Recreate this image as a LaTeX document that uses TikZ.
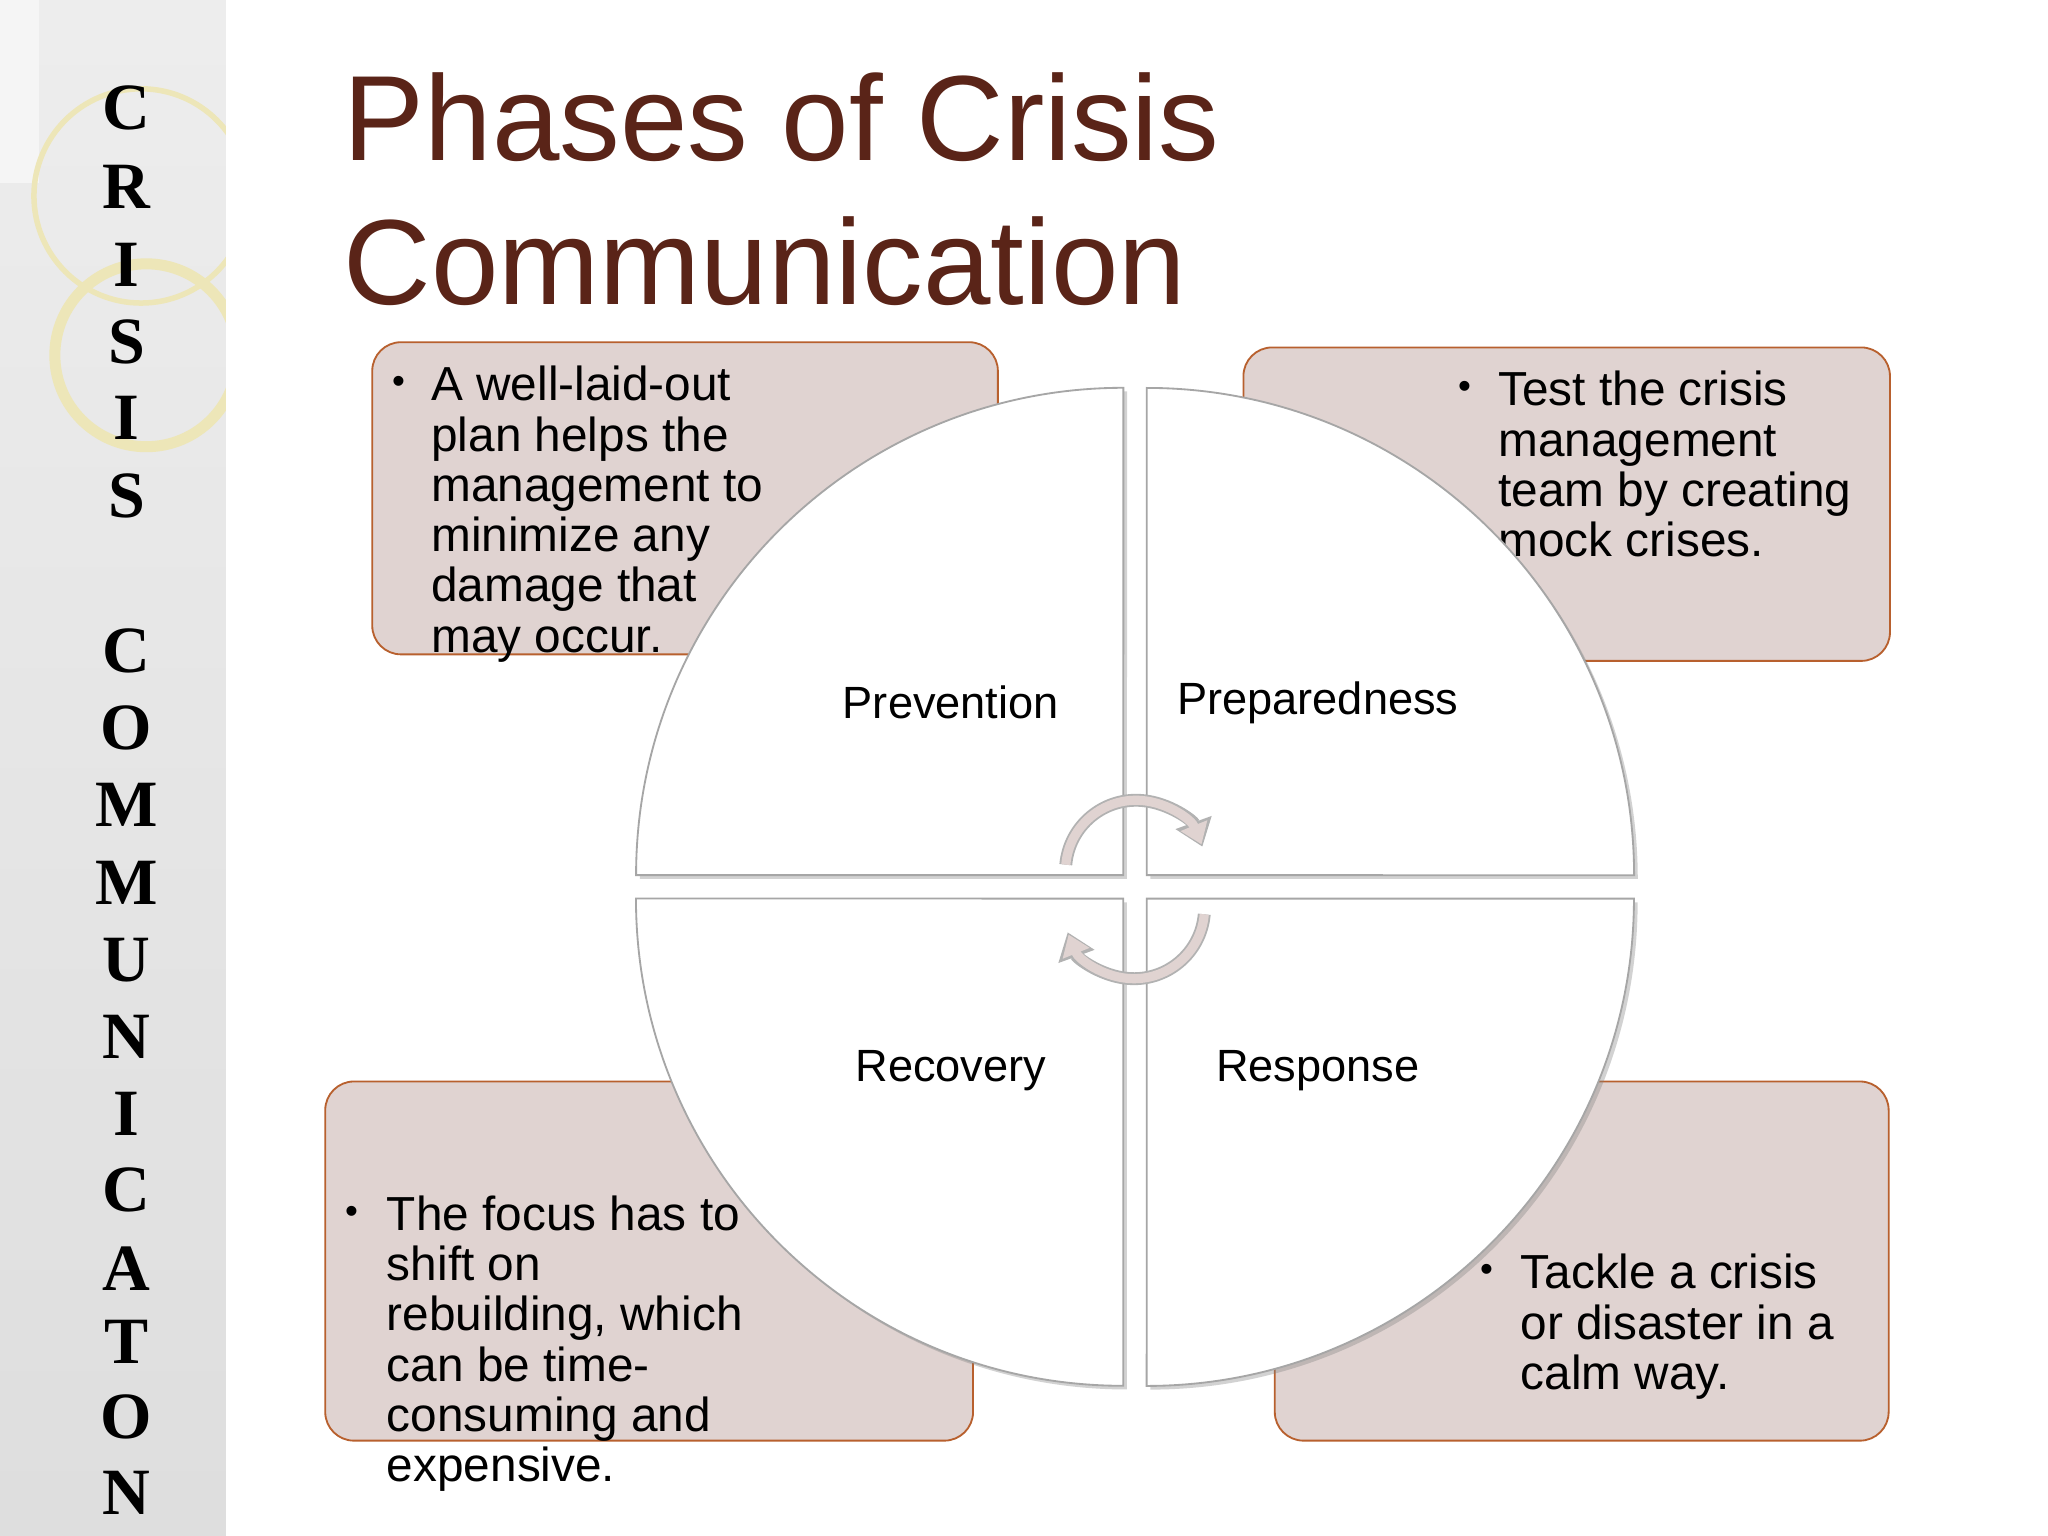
\documentclass[tikz,border=0pt]{standalone}
\usepackage{fontspec}
\setmainfont{Liberation Sans}
\newfontfamily\serifb{Liberation Serif}
\usetikzlibrary{shadows,arrows.meta}
\definecolor{boxfill}{HTML}{E0D3D1}
\definecolor{boxline}{HTML}{B8602E}
\definecolor{titlec}{HTML}{5A2418}
\definecolor{ringc}{HTML}{EDE6B8}
\tikzset{
 infobox/.style={draw=boxline,fill=boxfill,line width=1pt,rounded corners=0.55cm},
 quad/.style={draw=gray!70,fill=white,line width=1pt,drop shadow={opacity=0.35,shadow xshift=2pt,shadow yshift=-2pt}},
 btxt/.style={anchor=north west,inner sep=0pt,align=left,font=\fontsize{26}{27.4}\selectfont},
 bul/.style={anchor=north west,inner sep=0pt,font=\fontsize{20}{20}\selectfont},
 lab/.style={font=\fontsize{24.6}{27}\selectfont},
 side/.style={font=\serifb\bfseries\fontsize{36}{36}\selectfont},
 cyc/.style={line width=7pt,draw=gray!60},
}
\begin{document}
\begin{tikzpicture}[x=0.025cm,y=-0.025cm]
\useasboundingbox (0,0) rectangle (1568,1176);
\fill[white] (0,0) rectangle (1568,1176);
\shade[top color=gray!14,bottom color=gray!26] (0,0) rectangle (173,1176);
\fill[gray!8] (0,0) rectangle (30,140);
\draw[ringc,line width=3pt] (108,150) circle[radius=2.05cm];
\draw[ringc,line width=6pt] (112,272) circle[radius=1.75cm];
\fill[white] (173,0) rectangle (1568,1176);
% sidebar letters
\foreach \l/\y in {C/83,R/143,I/203,S/262,I/320,S/380,C/498,O/557,M/616,M/676,U/735,N/794,I/853,C/911,A/971,T/1027,O/1085,N/1143}
  \node[side] (s\y) at (97,\y) {\l};
% title
\node[anchor=base west,inner sep=0pt,text=titlec,font=\fontsize{66}{66}\selectfont] (t1) at (263,123) {Phases of Crisis};
\node[anchor=base west,inner sep=0pt,text=titlec,font=\fontsize{66}{66}\selectfont] (t2) at (263,233) {Communication};
% boxes
\draw[infobox] (285,262) rectangle (764,501);
\draw[infobox] (952,266) rectangle (1447,506);
\draw[infobox] (249,828) rectangle (745,1103);
\draw[infobox] (976,828) rectangle (1446,1103);
\node[bul] (b1) at (300,288) {•};
\node[btxt] (x1) at (330,280) {A well-laid-out\\plan helps the\\management to\\minimize any\\damage that\\may occur.};
\node[bul] (b2) at (1116,292) {•};
\node[btxt] (x2) at (1147,284) {Test the crisis\\management\\team by creating\\mock crises.};
\node[bul] (b3) at (264,923) {•};
\node[btxt] (x3) at (296,915) {The focus has to\\shift on\\rebuilding, which\\can be time-\\consuming and\\expensive.};
\node[bul] (b4) at (1133,968) {•};
\node[btxt] (x4) at (1164,960) {Tackle a crisis\\or disaster in a\\calm way.};
% quadrants
\path[quad] (860,670) -- (487,670) arc[start angle=180,end angle=90,radius=9.325cm] -- cycle;
\path[quad] (878,670) -- (878,297) arc[start angle=90,end angle=0,radius=9.325cm] -- cycle;
\path[quad] (860,688) -- (860,1061) arc[start angle=270,end angle=180,radius=9.325cm] -- cycle;
\path[quad] (878,688) -- (1251,688) arc[start angle=0,end angle=-90,radius=9.325cm] -- cycle;
\node[lab] (p1) at (728,538) {Prevention};
\node[lab] (p2) at (1009,538) {Preparedness};
\node[lab] (p3) at (728,820) {Recovery};
\node[lab] (p4) at (1009,820) {Response};
% cycle arrows
\coordinate (ca) at (816,662);
\draw[cyc,-{Triangle[length=14pt,width=20pt]}] (ca) arc[start angle=175,end angle=20,radius=1.35cm];
\draw[line width=5pt,draw=boxfill,-{Triangle[length=11pt,width=15pt,fill=boxfill]}] (ca) arc[start angle=175,end angle=22,radius=1.35cm];
\coordinate (cc) at (922,700);
\draw[cyc,-{Triangle[length=14pt,width=20pt]}] (cc) arc[start angle=-5,end angle=-160,radius=1.35cm];
\draw[line width=5pt,draw=boxfill,-{Triangle[length=11pt,width=15pt,fill=boxfill]}] (cc) arc[start angle=-5,end angle=-158,radius=1.35cm];
\end{tikzpicture}
\end{document}
